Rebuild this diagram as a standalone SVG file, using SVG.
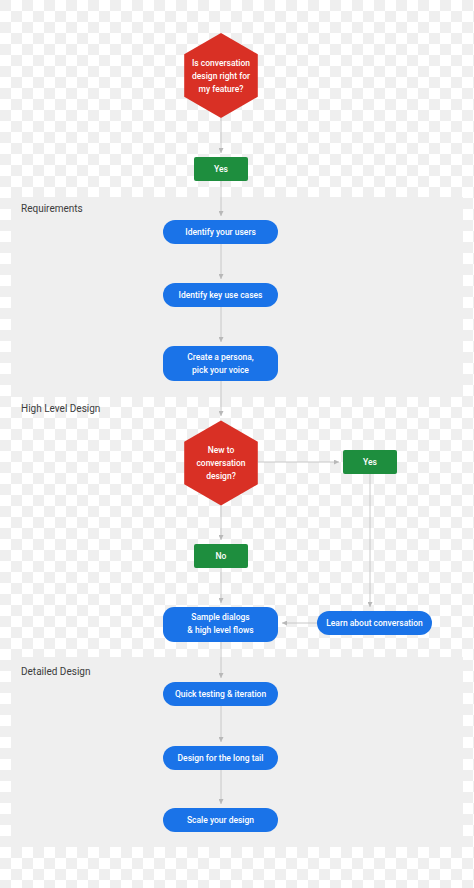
<svg xmlns="http://www.w3.org/2000/svg" width="474" height="888" viewBox="0 0 474 888">
<style>
.lbl{font-family:Roboto,"Liberation Sans",sans-serif;font-size:10px;fill:#3c3c3c}
.t{font-family:Roboto,"Open Sans","Liberation Sans",sans-serif;font-size:8.5px;font-weight:500;fill:#ffffff;text-anchor:middle}
.pill{fill:#1a73e8}
.hex{fill:#d93025}
.ok{fill:#1e8e3e}
.band{fill:#efefef}
.c{stroke:#c8c8c8;stroke-width:1;fill:none;marker-end:url(#ah)}
</style>
<defs>
<pattern id="chk" width="22" height="22" patternUnits="userSpaceOnUse">
<rect width="22" height="22" fill="#ffffff"/>
<rect width="11" height="11" fill="#efefef"/>
<rect x="11" y="11" width="11" height="11" fill="#efefef"/>
</pattern>
<marker id="ah" viewBox="0 0 6 6" refX="6" refY="3" markerWidth="5" markerHeight="5" orient="auto" markerUnits="userSpaceOnUse">
<path d="M0,0 L6,3 L0,6 Z" fill="#b8b8b8"/>
</marker>
</defs>
<rect width="474" height="888" fill="url(#chk)"/>
<g id="bands">
<rect class="band" x="11" y="197" width="452" height="200"/>
<rect class="band" x="11" y="657" width="452" height="190"/>
<text class="lbl" x="21" y="212">Requirements</text>
<text class="lbl" x="21" y="412">High Level Design</text>
<text class="lbl" x="21" y="675">Detailed Design</text>
</g>
<g id="connectors">
<path class="c" d="M221,118 V153"/>
<path class="c" d="M221,181 V216"/>
<path class="c" d="M221,244 V279"/>
<path class="c" d="M221,307 V342"/>
<path class="c" d="M221,381 V416"/>
<path class="c" d="M221,505 V540"/>
<path class="c" d="M258,462 H339"/>
<path class="c" d="M221,568 V603"/>
<path class="c" d="M370,474 V607"/>
<path class="c" d="M317,623 H282"/>
<path class="c" d="M221,642 V678"/>
<path class="c" d="M221,706 V742"/>
<path class="c" d="M221,770 V804"/>
</g>
<g id="q1">
<polygon class="hex" points="221,33 257.8,54.25 257.8,96.75 221,118 184.2,96.75 184.2,54.25"/>
<text class="t" x="221" y="66">Is conversation</text>
<text class="t" x="221" y="79">design right for</text>
<text class="t" x="221" y="92">my feature?</text>
</g>
<g id="yes1">
<rect class="ok" x="194" y="157" width="54" height="24" rx="2"/>
<text class="t" x="221" y="172">Yes</text>
</g>
<g id="users">
<rect class="pill" x="163" y="220" width="115" height="24" rx="12"/>
<text class="t" x="220.5" y="235">Identify your users</text>
</g>
<g id="usecases">
<rect class="pill" x="163" y="283" width="115" height="24" rx="12"/>
<text class="t" x="220.5" y="298">Identify key use cases</text>
</g>
<g id="persona">
<rect class="pill" x="163" y="346" width="115" height="35" rx="11"/>
<text class="t" x="220.5" y="360">Create a persona,</text>
<text class="t" x="220.5" y="372.5">pick your voice</text>
</g>
<g id="q2">
<polygon class="hex" points="221,420.5 257.8,441.75 257.8,484.25 221,505.5 184.2,484.25 184.2,441.75"/>
<text class="t" x="221" y="453">New to</text>
<text class="t" x="221" y="466">conversation</text>
<text class="t" x="221" y="479">design?</text>
</g>
<g id="yes2">
<rect class="ok" x="343" y="450" width="54" height="24" rx="2"/>
<text class="t" x="370" y="465">Yes</text>
</g>
<g id="no">
<rect class="ok" x="194" y="544" width="54" height="24" rx="2"/>
<text class="t" x="221" y="559">No</text>
</g>
<g id="sample">
<rect class="pill" x="163" y="607" width="115" height="35" rx="11"/>
<text class="t" x="220.5" y="620">Sample dialogs</text>
<text class="t" x="220.5" y="632.5">&amp; high level flows</text>
</g>
<g id="learn">
<rect class="pill" x="317" y="611" width="115" height="24" rx="12"/>
<text class="t" x="374.5" y="626">Learn about conversation</text>
</g>
<g id="quick">
<rect class="pill" x="163" y="682" width="115" height="24" rx="12"/>
<text class="t" x="220.5" y="697">Quick testing &amp; iteration</text>
</g>
<g id="longtail">
<rect class="pill" x="163" y="746" width="115" height="24" rx="12"/>
<text class="t" x="220.5" y="761">Design for the long tail</text>
</g>
<g id="scale">
<rect class="pill" x="163" y="808" width="115" height="24" rx="12"/>
<text class="t" x="220.5" y="823">Scale your design</text>
</g>
</svg>
